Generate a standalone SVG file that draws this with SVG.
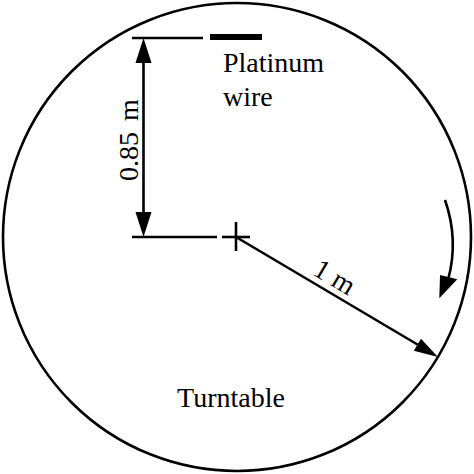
<svg xmlns="http://www.w3.org/2000/svg" width="474" height="474" viewBox="0 0 474 474">
<style>
.ln{fill:none;stroke:#000;stroke-width:2.6}
.hd{fill:#000;stroke:none}
text{font-family:"Liberation Serif","Times New Roman",serif;font-size:28px;fill:#000}
</style>
<rect width="474" height="474" fill="#fff"/>
<g id="turntable">
<circle class="ln" cx="237" cy="237" r="234" stroke-width="3"/>
<text x="231" y="407" text-anchor="middle" font-size="29">Turntable</text>
</g>
<g id="wire">
<rect x="210" y="34" width="52" height="6" fill="#000"/>
<text x="223" y="72" font-size="29">Platinum</text>
<text x="223" y="106" font-size="29">wire</text>
</g>
<g id="center">
<line class="ln" x1="222" y1="237" x2="250" y2="237"/>
<line class="ln" x1="236" y1="222" x2="236" y2="251"/>
</g>
<g id="connectors">
<line class="ln" x1="132" y1="38" x2="203" y2="38"/>
<line class="ln" x1="132" y1="237" x2="217" y2="237"/>
<line class="ln" x1="143.5" y1="55" x2="143.5" y2="220"/>
<polygon class="hd" points="143.5,38 135.5,63 151.5,63"/>
<polygon class="hd" points="143.5,237 135.5,212 151.5,212"/>
<g id="dim-label"><text transform="translate(137.5,140) rotate(-90)" text-anchor="middle" font-size="29" word-spacing="4">0.85 m</text></g>
<line class="ln" x1="236" y1="237" x2="420" y2="346"/>
<polygon class="hd" points="438,357 413.8,350.7 421,338.7"/>
<text transform="translate(330,285) rotate(30.7)" text-anchor="middle" font-size="29">1 m</text>
<path class="ln" d="M445,200 Q459,240 448,280"/>
<polygon class="hd" points="439.3,298.3 440,275 457.3,279.3"/>
</g>
</svg>
